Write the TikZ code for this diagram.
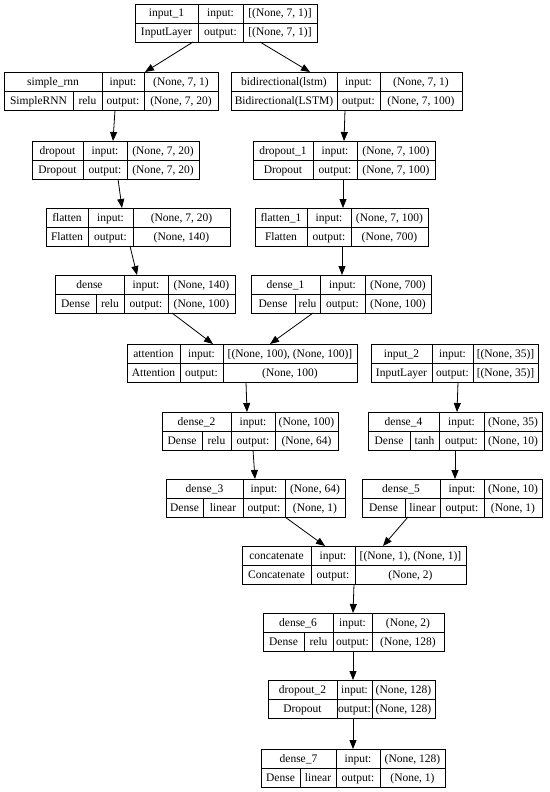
\documentclass[tikz,border=0pt]{standalone}
\usepackage{fontspec}
\setmainfont{Liberation Serif}
\usetikzlibrary{arrows.meta}
\tikzset{
  kbox/.style={draw, line width=0.8bp, inner sep=0pt, outer sep=0pt},
  kline/.style={line width=0.8bp},
  ktxt/.style={inner sep=0pt, font=\fontsize{11.5bp}{13bp}\selectfont, text height=8bp, text depth=1bp, anchor=center},
  karr/.style={line width=0.8bp, -{Triangle[length=9bp,width=7bp]}},
}
% name x1 x2 c1 c2 ytop
\newcommand{\kframe}[6]{%
  \def\kname{#1}\def\kxa{#2}\def\kxb{#3}\def\kca{#4}\def\kcb{#5}\def\ky{#6}%
  \node[kbox, minimum width={(#3-#2)*1bp}, minimum height=38bp] (#1) at ({(#2+#3)/2},{#6+19}) {};
  \draw[kline] (#2,{#6+19}) -- (#3,{#6+19});
  \draw[kline] (#4,#6) -- (#4,{#6+38});
  \draw[kline] (#5,#6) -- (#5,{#6+38});
  \node[ktxt] (#1-in) at ({(#4+#5)/2},{#6+9.5}) {input:};
  \node[ktxt] (#1-out) at ({(#4+#5)/2},{#6+28.5}) {output:};
}
% name class in out
\newcommand{\kfill}[4]{%
  \node[ktxt] (\kname-n) at ({(\kxa+\kca)/2},{\ky+9.5}) {#1};
  \node[ktxt] (\kname-c) at ({(\kxa+\kca)/2},{\ky+28.5}) {#2};
  \node[ktxt] (\kname-iv) at ({(\kcb+\kxb)/2},{\ky+9.5}) {#3};
  \node[ktxt] (\kname-ov) at ({(\kcb+\kxb)/2},{\ky+28.5}) {#4};
}
% split name class act in out
\newcommand{\kfillact}[6]{%
  \draw[kline] (#1,{\ky+19}) -- (#1,{\ky+38});
  \node[ktxt] (\kname-n) at ({(\kxa+\kca)/2},{\ky+9.5}) {#2};
  \node[ktxt] (\kname-c) at ({(\kxa+#1)/2},{\ky+28.5}) {#3};
  \node[ktxt] (\kname-a) at ({(#1+\kca)/2},{\ky+28.5}) {#4};
  \node[ktxt] (\kname-iv) at ({(\kcb+\kxb)/2},{\ky+9.5}) {#5};
  \node[ktxt] (\kname-ov) at ({(\kcb+\kxb)/2},{\ky+28.5}) {#6};
}
\begin{document}
\begin{tikzpicture}[x=1bp, y=-1bp]
\useasboundingbox (0,0) rectangle (550,792);

\kframe{in1}{135}{317}{198}{243}{4}
\kfill{input\_1}{InputLayer}{[(None, 7, 1)]}{[(None, 7, 1)]}

\kframe{rnn}{4}{218}{102}{144}{72}
\kfillact{73}{simple\_rnn}{SimpleRNN}{relu}{(None, 7, 1)}{(None, 7, 20)}

\kframe{bi}{231}{462}{337}{380}{72}
\kfill{bidirectional(lstm)}{Bidirectional(LSTM)}{(None, 7, 1)}{(None, 7, 100)}

\kframe{drop}{32}{199}{83}{127}{141}
\kfill{dropout}{Dropout}{(None, 7, 20)}{(None, 7, 20)}

\kframe{drop1}{253}{435}{313}{357}{141}
\kfill{dropout\_1}{Dropout}{(None, 7, 100)}{(None, 7, 100)}

\kframe{flat}{46}{230}{88}{133}{208}
\kfill{flatten}{Flatten}{(None, 7, 20)}{(None, 140)}

\kframe{flat1}{255}{428}{307}{351}{208}
\kfill{flatten\_1}{Flatten}{(None, 7, 100)}{(None, 700)}

\kframe{dense}{55}{235}{124}{168}{275}
\kfillact{96}{dense}{Dense}{relu}{(None, 140)}{(None, 100)}

\kframe{dense1}{251}{431}{320}{365}{275}
\kfillact{295}{dense\_1}{Dense}{relu}{(None, 700)}{(None, 100)}

\kframe{att}{127}{357}{180}{223}{344}
\kfill{attention}{Attention}{[(None, 100), (None, 100)]}{(None, 100)}

\kframe{in2}{371}{538}{432}{473}{344}
\kfill{input\_2}{InputLayer}{[(None, 35)]}{[(None, 35)]}

\kframe{dense2}{162}{338}{231}{275}{412}
\kfillact{202}{dense\_2}{Dense}{relu}{(None, 100)}{(None, 64)}

\kframe{dense4}{368}{542}{439}{484}{412}
\kfillact{410}{dense\_4}{Dense}{tanh}{(None, 35)}{(None, 10)}

\kframe{dense3}{166}{345}{243}{285}{479}
\kfillact{203}{dense\_3}{Dense}{linear}{(None, 64)}{(None, 1)}

\kframe{dense5}{362}{542}{440}{484}{479}
\kfillact{405}{dense\_5}{Dense}{linear}{(None, 10)}{(None, 1)}

\kframe{cat}{242}{466}{311}{355}{546}
\kfill{concatenate}{Concatenate}{[(None, 1), (None, 1)]}{(None, 2)}

\kframe{dense6}{263}{444}{333}{372}{613}
\kfillact{304}{dense\_6}{Dense}{relu}{(None, 2)}{(None, 128)}

\kframe{drop2}{268}{435}{337}{372}{680}
\kfill{dropout\_2}{Dropout}{(None, 128)}{(None, 128)}

\kframe{dense7}{261}{445}{336}{380}{749}
\kfillact{300}{dense\_7}{Dense}{linear}{(None, 128)}{(None, 1)}

\draw[karr] (in1.south -| 193,0) -- (rnn.north -| 145,0);
\draw[karr] (in1.south -| 260,0) -- (bi.north -| 310,0);
\draw[karr] (rnn.south -| 115,0) -- (drop.north -| 113,0);
\draw[karr] (drop.south -| 118,0) -- (flat.north -| 122,0);
\draw[karr] (bi.south -| 345,0) -- (drop1.north -| 344,0);
\draw[karr] (drop1.south -| 343,0) -- (flat1.north -| 343,0);
\draw[karr] (flat.south -| 130,0) -- (dense.north -| 137,0);
\draw[karr] (flat1.south -| 342,0) -- (dense1.north -| 342,0);
\draw[karr] (dense.south -| 172,0) -- (att.north -| 213,0);
\draw[karr] (dense1.south -| 313,0) -- (att.north -| 270,0);
\draw[karr] (att.south -| 246,0) -- (dense2.north -| 247,0);
\draw[karr] (in2.south -| 458,0) -- (dense4.north -| 457,0);
\draw[karr] (dense2.south -| 253,0) -- (dense3.north -| 255,0);
\draw[karr] (dense4.south -| 455,0) -- (dense5.north -| 455,0);
\draw[karr] (dense3.south -| 285,0) -- (cat.north -| 325,0);
\draw[karr] (dense5.south -| 408,0) -- (cat.north -| 383,0);
\draw[karr] (cat.south -| 354,0) -- (dense6.north -| 353,0);
\draw[karr] (dense6.south -| 353,0) -- (drop2.north -| 353,0);
\draw[karr] (drop2.south -| 353,0) -- (dense7.north -| 353,0);
\end{tikzpicture}
\end{document}
